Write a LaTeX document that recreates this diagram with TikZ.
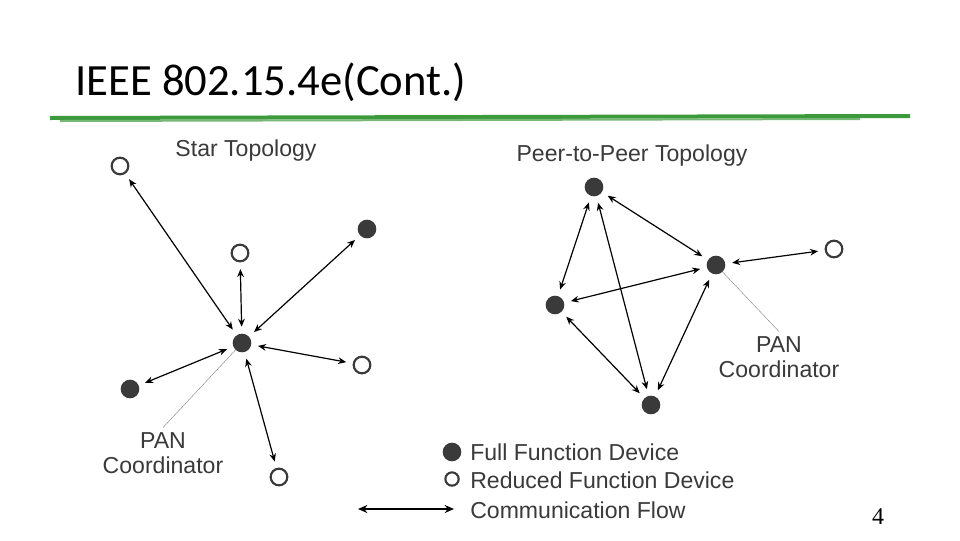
\documentclass[tikz,border=0pt]{standalone}
\usepackage{fontspec}
\setmainfont{Liberation Sans}
\newfontfamily\calib{Carlito}
\newfontfamily\serifm{Liberation Serif}
\usetikzlibrary{arrows.meta}
\definecolor{dev}{HTML}{3A3A3A}
\definecolor{grn}{HTML}{3C9A3C}
\begin{document}
\begin{tikzpicture}[x=0.75pt,y=-0.75pt,
  ffd/.style={circle,fill=dev,minimum size=14pt,inner sep=0pt},
  rfd/.style={circle,draw=dev,line width=1.6pt,fill=white,minimum size=12.5pt,inner sep=0pt},
  flow/.style={{Stealth[length=6pt,width=5pt]}-{Stealth[length=6pt,width=5pt]},line width=0.9pt,shorten <=5pt,shorten >=5pt},
  lbl/.style={font=\fontsize{17.3}{19}\selectfont,text=dev,align=center},
  lead/.style={line width=0.3pt,draw=gray}]
\useasboundingbox (0,0) rectangle (960,540);
\fill[white] (0,0) rectangle (960,540);
\node[anchor=west,font=\calib\fontsize{33.5}{36}\selectfont,inner sep=0pt] (t) at (75,82) {IEEE 802.15.4e(Cont.)};
\draw[grn,line width=3pt] (50,118) -- (910,116);
\draw[grn!70,line width=1.5pt] (60,121) -- (860,119);
% star
\node[lbl] (st) at (246,151) {Star Topology};
\node[ffd] (c) at (242,343) {};
\node[rfd] (s1) at (120,166) {};
\node[rfd] (s2) at (240,253) {};
\node[ffd] (s3) at (367,229) {};
\node[rfd] (s4) at (362,365) {};
\node[ffd] (s5) at (130,389) {};
\node[rfd] (s6) at (279,477) {};
\foreach \n in {s1,s2,s3,s4,s5,s6} \draw[flow] (c) -- (\n);
\node[lbl] (pan1) at (163,453) {PAN\\Coordinator};
\draw[lead] (c) -- (pan1.north);
% peer to peer
\node[lbl] (pt) at (632,156) {Peer-to-Peer Topology};
\node[ffd] (a) at (594,187) {};
\node[ffd] (b) at (716,265) {};
\node[ffd] (cc) at (555,305) {};
\node[ffd] (d) at (651,405) {};
\node[rfd] (e) at (834,249) {};
\foreach \u/\v in {a/b,a/cc,a/d,b/cc,cc/d,b/d,b/e} \draw[flow] (\u) -- (\v);
\node[lbl] (pan2) at (779,357) {PAN\\Coordinator};
\draw[lead] (b) -- (pan2.north);
% legend
\node[ffd] (l1) at (452,452) {};
\node[lbl,anchor=west,inner sep=0pt] (l1t) at (470,452) {Full Function Device};
\node[rfd,minimum size=10pt] (l2) at (452,479) {};
\node[lbl,anchor=west,inner sep=0pt] (l2t) at (470,480) {Reduced Function Device};
\coordinate (f1) at (358,509);
\coordinate (f2) at (454,509);
\draw[{Stealth[length=7pt,width=6pt]}-{Stealth[length=7pt,width=6pt]},line width=1.3pt] (f1) -- (f2);
\node[lbl,anchor=west,inner sep=0pt] (l3t) at (470,510) {Communication Flow};
\node[font=\serifm\fontsize{18}{20}\selectfont] (pg) at (878,517) {4};
\end{tikzpicture}
\end{document}
